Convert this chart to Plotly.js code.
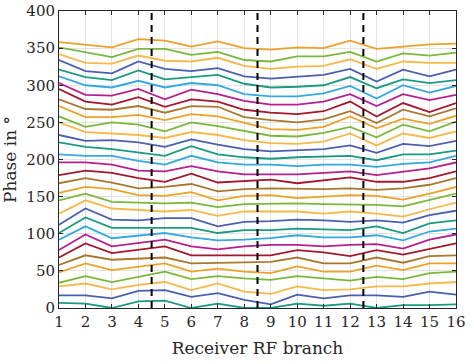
<!DOCTYPE html>
<html>
<head>
<meta charset="utf-8">
<script src="https://cdn.plot.ly/plotly-3.0.1.min.js"></script>
<style>html,body{margin:0;padding:0;background:#fff;}#chart{width:474px;height:364px;}</style>
</head>
<body>
<div id="chart"></div>
<script>
// Receiver RF branch index
const branches = [1,2,3,4,5,6,7,8,9,10,11,12,13,14,15,16];
const state00 = [7,6,0,9,10,0,6,0,0,6,3,6,0,4,4,5];
const state01 = [17,17,13,23,24,15,20,11,5,18,13,17,17,15,22,18];
const state02 = [29,33,25,31,35,24,33,22,19,29,24,25,29,29,33,35];
const state03 = [34,43,35,42,49,39,43,40,38,43,40,37,42,39,47,49];
const state04 = [48,60,51,56,60,49,53,49,47,56,49,49,57,51,60,60];
const state05 = [58,71,65,66,68,60,61,62,62,68,60,60,68,61,70,71];
const state06 = [68,87,74,78,83,71,71,71,71,78,75,70,78,72,80,87];
const state07 = [78,99,83,88,92,83,79,83,85,85,83,85,86,80,92,99];
const state08 = [92,110,94,98,101,95,91,92,94,98,95,95,98,91,103,107];
const state09 = [101,122,108,108,109,108,101,105,105,107,106,105,110,101,114,118];
const state10 = [112,134,119,118,121,121,110,116,117,119,118,116,118,115,125,131];
const state11 = [127,145,134,132,130,132,124,130,130,130,127,130,127,123,133,142];
const state12 = [145,154,143,142,141,142,136,140,141,141,140,140,139,137,146,154];
const state13 = [155,163,160,152,151,156,145,151,152,148,150,152,151,146,154,163];
const state14 = [168,175,169,161,163,167,157,160,161,160,160,161,159,161,166,175];
const state15 = [179,185,182,175,170,181,169,171,173,168,172,176,170,170,175,184];
const state16 = [196,196,193,185,184,191,184,180,180,180,182,184,179,184,188,196];
const state17 = [207,205,205,198,193,205,196,193,193,191,193,193,190,194,196,205];
const state18 = [223,217,214,209,205,218,207,203,201,203,204,205,199,207,207,212];
const state19 = [233,225,226,223,217,227,220,214,211,212,214,219,209,221,218,225];
const state20 = [250,237,235,233,229,237,233,226,222,221,224,235,219,235,229,238];
const state21 = [258,244,250,247,238,250,245,238,232,231,236,244,230,247,238,251];
const state22 = [272,257,257,260,253,261,258,249,241,240,244,258,242,255,248,259];
const state23 = [281,268,267,272,263,272,271,257,253,250,254,265,249,267,258,269];
const state24 = [295,278,274,284,271,281,278,267,263,261,265,278,258,276,264,276];
const state25 = [303,287,286,295,281,294,288,279,274,274,278,288,272,288,280,287];
const state26 = [312,300,297,306,297,303,300,288,285,285,289,299,282,300,290,299];
const state27 = [321,311,307,320,308,311,314,302,297,298,300,311,296,308,303,307];
const state28 = [334,319,316,332,322,319,323,312,309,311,314,322,305,321,312,321];
const state29 = [342,330,329,340,333,332,337,326,322,325,326,335,322,332,330,330];
const state30 = [351,344,338,349,349,341,345,334,332,339,339,345,332,343,340,344];
const state31 = [358,355,351,362,360,352,359,350,348,351,350,360,349,352,355,356];
// Boundaries between RF front-end groups (dashed separators)
const groupBoundaries = [4.5, 8.5, 12.5];
const xTickLabels = ['1','2','3','4','5','6','7','8','9','10','11','12','13','14','15','16'];
const yTickValues = [0,50,100,150,200,250,300,350,400];

const states = [state00,state01,state02,state03,state04,state05,state06,state07,state08,state09,
  state10,state11,state12,state13,state14,state15,state16,state17,state18,state19,
  state20,state21,state22,state23,state24,state25,state26,state27,state28,state29,state30,state31];
const palette = ['#1a9a80','#4a5fb0','#f7b84a','#7ab83c','#eaa22a','#a8782e','#a3182e','#b5208e','#35a8e0'];

const traces = states.map((s, i) => ({
  x: branches, y: s, type: 'scatter', mode: 'lines',
  line: {color: palette[i % palette.length], width: 1.8},
  hoverinfo: 'skip', showlegend: false
}));
groupBoundaries.forEach(b => {
  traces.push({x: [b, b], y: [yTickValues[0], yTickValues[yTickValues.length-1]], type: 'scatter', mode: 'lines',
    line: {color: '#000', width: 2, dash: '7px,5px'}, hoverinfo: 'skip', showlegend: false});
});

const fontFam = 'DejaVu Serif';
const layout = {
  width: 474, height: 364,
  margin: {l: 59, r: 18, t: 11, b: 56, pad: 0},
  paper_bgcolor: '#fff', plot_bgcolor: '#fff',
  showlegend: false,
  font: {family: fontFam, size: 15, color: '#262626'},
  xaxis: {
    range: [1, 16], tickvals: branches, ticktext: xTickLabels,
    showgrid: true, gridcolor: '#e3e3e3', gridwidth: 1,
    zeroline: false, showline: true, linecolor: '#262626', linewidth: 1, mirror: 'ticks',
    ticks: 'inside', ticklen: 4, tickcolor: '#262626',
    tickfont: {family: fontFam, size: 15, color: '#262626'},
    title: {text: 'Receiver RF branch', font: {family: fontFam, size: 17, color: '#262626'}, standoff: 12}
  },
  yaxis: {
    range: [0, 400], tickvals: yTickValues,
    showgrid: true, gridcolor: '#e3e3e3', gridwidth: 1,
    zeroline: false, showline: true, linecolor: '#262626', linewidth: 1, mirror: 'ticks',
    ticks: 'inside', ticklen: 4, tickcolor: '#262626',
    tickfont: {family: fontFam, size: 15, color: '#262626'},
    title: {text: 'Phase in °', font: {family: fontFam, size: 17, color: '#262626'}, standoff: 6}
  }
};
Plotly.newPlot('chart', traces, layout, {staticPlot: true, displayModeBar: false});
</script>
</body>
</html>
